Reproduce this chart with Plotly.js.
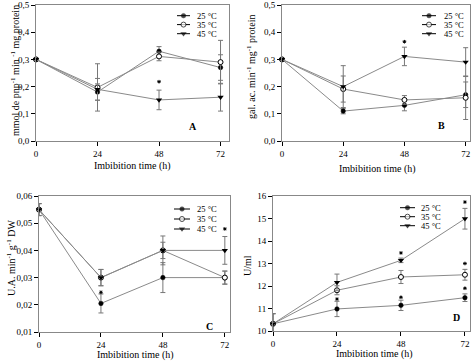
<!DOCTYPE html>
<html><head><meta charset="utf-8">
<script src="https://cdn.plot.ly/plotly-3.0.1.min.js"></script>
<style>html,body{margin:0;padding:0;background:#fff}#g{width:474px;height:362px}</style>
</head><body><div id="g"></div>
<script>
// ---- data ----
const X = [0, 24, 48, 72];
const seriesNames = ['25 °C', '35 °C', '45 °C'];

const A25 = [0.30, 0.18, 0.33, 0.27],   A25e = [0, 0.03, 0.017, 0.047];
const A35 = [0.30, 0.197, 0.311, 0.29], A35e = [0, 0.087, 0.016, 0.08];
const A45 = [0.30, 0.19, 0.151, 0.161], A45e = [0, 0.04, 0.036, 0.051];
const AstarX = [48], AstarY = [0.218];

const B25 = [0.30, 0.11, 0.131, 0.17],  B25e = [0, 0.01, 0.02, 0.047];
const B35 = [0.30, 0.191, 0.151, 0.159],B35e = [0, 0.048, 0.016, 0.08];
const B45 = [0.30, 0.20, 0.311, 0.29],  B45e = [0, 0.077, 0.034, 0.053];
const BstarX = [48], BstarY = [0.365];

const C25 = [0.055, 0.0205, 0.030, 0.030], C25e = [0.0022, 0.0035, 0.0055, 0.0024];
const C35 = [0.055, 0.030, 0.040, 0.030],  C35e = [0.0022, 0.003, 0.003, 0.0024];
const C45 = [0.055, 0.030, 0.040, 0.040],  C45e = [0.0022, 0.003, 0.0053, 0.0051];
const CstarX = [24, 72], CstarY = [0.0246, 0.0479];

const D25 = [10.32, 10.98, 11.14, 11.48], D25e = [0.45, 0.34, 0.23, 0.17];
const D35 = [10.32, 11.81, 12.40, 12.50], D35e = [0.45, 0.2, 0.29, 0.24];
const D45 = [10.32, 12.16, 13.14, 14.99], D45e = [0.45, 0.37, 0.1, 0.46];
const DstarX = [24, 48, 48, 72, 72, 72], DstarY = [11.42, 11.5, 13.47, 11.9, 13.0, 15.73];

const xTicks = [0, 24, 48, 72];
const xTitle = 'Imbibition time (h)';
const yTitles = ['mmol de pnp<sup>-1</sup> min <sup>-1</sup> mg protein',
                 'gal. ac. min<sup>-1</sup> mg<sup>-1</sup> protein',
                 'U.A. min<sup>-1</sup> g<sup>-1</sup> DW',
                 'U/ml'];
const panelLetters = ['A', 'B', 'C', 'D'];

// ---- styling ----
const FONT = '"Liberation Serif", serif';
const LINE = '#8a8a8a';
const markerStyles = [
  {symbol: 'circle', size: 4.5, color: '#000', line: {color: '#000', width: 0.5}},
  {symbol: 'circle', size: 5, color: '#fff', line: {color: '#000', width: 1}},
  {symbol: 'triangle-down', size: 5.5, color: '#000', line: {color: '#000', width: 0}}
];

const panels = [
  {ys: [A25, A35, A45], es: [A25e, A35e, A45e], sx: AstarX, sy: AstarY},
  {ys: [B25, B35, B45], es: [B25e, B35e, B45e], sx: BstarX, sy: BstarY},
  {ys: [C25, C35, C45], es: [C25e, C35e, C45e], sx: CstarX, sy: CstarY},
  {ys: [D25, D35, D45], es: [D25e, D35e, D45e], sx: DstarX, sy: DstarY}
];

const W = 474, H = 362;
// plot areas in pixels [x0, x1, yTop, yBottom]
const boxes = [[36, 229, 5, 141], [282, 470, 5, 141], [39, 230, 196, 332], [273, 470, 196, 331]];
const xRanges = [[0, 75.3], [0, 73.7], [0, 74], [0, 73.9]];
const yRanges = [[0, 0.5], [0, 0.5], [0.01, 0.06], [10, 16]];
const yDtick = [0.1, 0.1, 0.01, 1];
const yFormat = ['.1f', '.1f', '.2f', 'd'];
// legend key positions [lineX0, lineX1, textX, row ys]
const legendPos = [
  [177, 190, 195, [15.7, 24.6, 33.7]],
  [422, 436, 442, [15.7, 24.6, 33.7]],
  [174, 190, 195, [209, 219, 229]],
  [400, 415, 419, [207.7, 216.7, 225.7]]
];
const yTitlePos = [[15, 71], [251, 67], [11, 258], [247, 266]];
const xTitlePos = [[132, 166], [377, 169], [135, 355], [374, 354]];
const letterPos = [[193, 126], [441, 125], [209, 326], [456, 317]];

const traces = [];
const layout = {
  width: W, height: H, margin: {l: 0, r: 0, t: 0, b: 0},
  paper_bgcolor: '#fff', plot_bgcolor: 'rgba(0,0,0,0)',
  showlegend: false, separators: ',.',
  font: {family: FONT, size: 9, color: '#000'},
  annotations: []
};

panels.forEach((p, i) => {
  const n = i + 1;
  const xa = 'x' + n, ya = 'y' + n;
  const b = boxes[i];
  layout['xaxis' + n] = {
    domain: [b[0] / W, b[1] / W], range: xRanges[i], anchor: ya,
    tickvals: xTicks, ticks: 'outside', ticklen: 4, tickcolor: '#000', tickwidth: 1,
    showline: true, mirror: true, linecolor: '#888', linewidth: 1,
    showgrid: false, zeroline: false, tickfont: {family: FONT, size: 9, color: '#000'}
  };
  layout['yaxis' + n] = {
    domain: [1 - b[3] / H, 1 - b[2] / H], range: yRanges[i], anchor: xa,
    dtick: yDtick[i], tick0: yRanges[i][0], tickformat: yFormat[i],
    ticks: 'outside', ticklen: 4, tickcolor: '#000', tickwidth: 1,
    showline: true, mirror: true, linecolor: '#888', linewidth: 1,
    showgrid: false, zeroline: false, tickfont: {family: FONT, size: 9, color: '#000'}
  };
  p.ys.forEach((y, k) => {
    traces.push({
      type: 'scatter', mode: 'lines+markers', x: X, y: y, xaxis: xa, yaxis: ya,
      name: seriesNames[k], cliponaxis: false,
      line: {color: LINE, width: 1},
      marker: markerStyles[k],
      error_y: {type: 'data', array: p.es[k], visible: true, color: '#777', thickness: 1, width: 2.5}
    });
  });
  traces.push({
    type: 'scatter', mode: 'markers', x: p.sx, y: p.sy, xaxis: xa, yaxis: ya, cliponaxis: false,
    marker: {symbol: 'asterisk-open', size: 3, color: '#000', line: {color: '#000', width: 1}}
  });

  // legend keys (overlay pixel axis)
  const lp = legendPos[i];
  lp[3].forEach((ry, k) => {
    traces.push({
      type: 'scatter', mode: 'lines+markers', x: [lp[0], (lp[0] + lp[1]) / 2, lp[1]], y: [ry, ry, ry],
      xaxis: 'x5', yaxis: 'y5', cliponaxis: false,
      line: {color: '#000', width: 1},
      marker: Object.assign({}, markerStyles[k], {size: [0, markerStyles[k].size, 0]})
    });
    layout.annotations.push({
      xref: 'x5', yref: 'y5', x: lp[2], y: ry, text: seriesNames[k], showarrow: false,
      xanchor: 'left', yanchor: 'middle', font: {family: FONT, size: 8.5, color: '#000'}
    });
  });

  layout.annotations.push({
    xref: 'x5', yref: 'y5', x: yTitlePos[i][0], y: yTitlePos[i][1], text: yTitles[i],
    textangle: -90, showarrow: false, xanchor: 'center', yanchor: 'middle',
    font: {family: FONT, size: 10, color: '#000'}
  });
  layout.annotations.push({
    xref: 'x5', yref: 'y5', x: xTitlePos[i][0], y: xTitlePos[i][1], text: xTitle,
    showarrow: false, xanchor: 'center', yanchor: 'middle',
    font: {family: FONT, size: 10, color: '#000'}
  });
  layout.annotations.push({
    xref: 'x5', yref: 'y5', x: letterPos[i][0], y: letterPos[i][1], text: '<b>' + panelLetters[i] + '</b>',
    showarrow: false, xanchor: 'center', yanchor: 'middle',
    font: {family: FONT, size: 10, color: '#000'}
  });
});

layout.xaxis5 = {domain: [0, 1], range: [0, W], anchor: 'y5', visible: false, fixedrange: true};
layout.yaxis5 = {domain: [0, 1], range: [H, 0], anchor: 'x5', visible: false, fixedrange: true};

Plotly.newPlot('g', traces, layout, {staticPlot: true});
</script></body></html>
